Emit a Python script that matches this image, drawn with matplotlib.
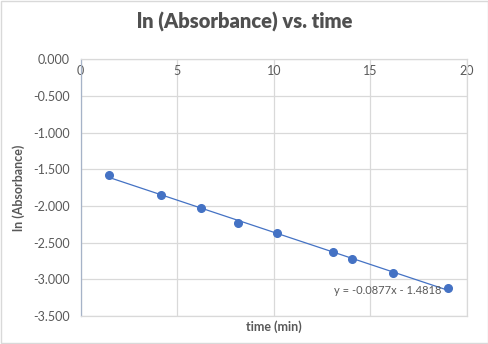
import numpy as np
import matplotlib.pyplot as plt
from matplotlib.patches import Rectangle

time_min = [1.48, 4.17, 6.24, 8.15, 10.14, 13.04, 14.07, 16.17, 19.02]
ln_abs = [-1.580, -1.853, -2.030, -2.230, -2.371, -2.629, -2.725, -2.907, -3.120]
slope, intercept = -0.0877, -1.4818

plt.rcParams['font.family'] = ['Lato', 'DejaVu Sans']
txt = '#595959'
blue = '#4472C4'

fig = plt.figure(figsize=(4.89, 3.44), dpi=100)
ax = fig.add_axes([0.165, 0.0814, 0.79, 0.7462])

ax.plot(time_min, ln_abs, 'o', color=blue, markersize=5.5, zorder=3)
xs = np.array([min(time_min), max(time_min)])
ax.plot(xs, slope * xs + intercept, '-', color=blue, lw=0.9, zorder=2)

ax.set_xlim(0, 20)
ax.set_ylim(-3.5, 0)
ax.set_xticks(range(0, 21, 5))
ax.set_yticks(np.arange(-3.5, 0.01, 0.5))
ax.yaxis.set_major_formatter(plt.FuncFormatter(lambda v, p: '%.3f' % v))
ax.xaxis.tick_top()
ax.tick_params(axis='x', length=0, pad=-13, labelsize=9, labelcolor=txt)
ax.tick_params(axis='y', length=0, pad=8, labelsize=9, labelcolor=txt)
ax.grid(True, color='#d9d9d9', lw=0.9)
ax.set_axisbelow(True)
for s in ['right', 'bottom', 'top']:
    ax.spines[s].set_color('#d9d9d9')
    ax.spines[s].set_linewidth(0.9)
ax.spines['left'].set_color('#a6b3c8')
ax.spines['left'].set_linewidth(0.9)

ax.set_xlabel('time (min)', fontsize=9, fontweight='bold', color=txt)
ax.xaxis.set_label_position('bottom')
ax.xaxis.labelpad = 3
ax.set_ylabel('ln (Absorbance)', fontsize=9, fontweight='bold', color=txt, labelpad=6)

ax.text(15.9, -3.157, 'y = -0.0877x - 1.4818', fontsize=8, color=txt,
        ha='center', va='center')

fig.text(0.5, 0.935, 'ln (Absorbance) vs. time', ha='center', va='center',
         fontsize=14.5, fontweight='heavy', color='#505050')

fig.patches.append(Rectangle((0.002, 0.003), 0.996, 0.994, transform=fig.transFigure,
                             fill=False, edgecolor='#d9d9d9', lw=1))

fig.savefig('out.png', dpi=100)
